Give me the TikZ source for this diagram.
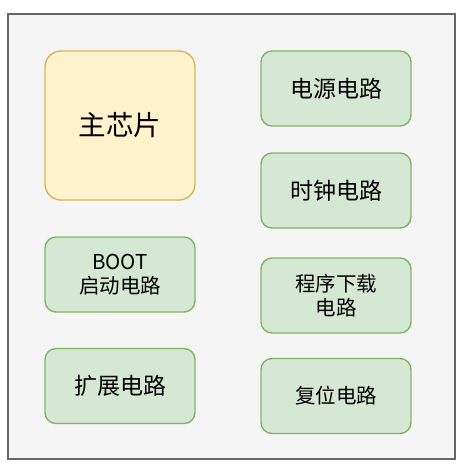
\documentclass[tikz,border=0pt]{standalone}
\usepackage{fontspec}
\setmainfont{Noto Sans CJK SC}
\begin{document}
\begin{tikzpicture}[x=1pt,y=-1pt,
  outerbox/.style={draw=gray!80!black,fill=black!4,line width=1.3pt},
  chipbox/.style={draw=yellowborder,fill=yellowfill,line width=1.4pt,rounded corners=16pt,minimum width=150pt,minimum height=149pt,align=center,inner sep=0pt},
  circbox/.style={draw=greenborder,fill=greenfill,line width=1.4pt,rounded corners=11pt,minimum width=150pt,minimum height=75pt,align=center,inner sep=0pt},
]
\definecolor{yellowborder}{HTML}{D6B656}
\definecolor{yellowfill}{HTML}{FFF2CC}
\definecolor{greenborder}{HTML}{82B366}
\definecolor{greenfill}{HTML}{D5E8D4}
\useasboundingbox (0,0) rectangle (474,467);
\fill[white] (0,0) rectangle (474,467);
\draw[outerbox] (8,14) rectangle (455,459);
\node[chipbox,font=\fontsize{27.5}{32}\selectfont] (chip) at (120,125.5) {主芯片};
\node[circbox,font=\fontsize{23}{27}\selectfont] (power) at (336,88.5) {电源电路};
\node[circbox,font=\fontsize{23}{27}\selectfont] (clock) at (336,190.5) {时钟电路};
\node[circbox,font=\fontsize{20.5}{24.5}\selectfont] (boot) at (120,274.5) {BOOT\\启动电路};
\node[circbox,font=\fontsize{23}{27}\selectfont] (ext) at (120,386) {扩展电路};
\node[circbox,font=\fontsize{20.5}{24.5}\selectfont] (prog) at (336,295.5) {程序下载\\电路};
\node[circbox,font=\fontsize{20.5}{24.5}\selectfont] (reset) at (336,396) {复位电路};
\end{tikzpicture}
\end{document}
